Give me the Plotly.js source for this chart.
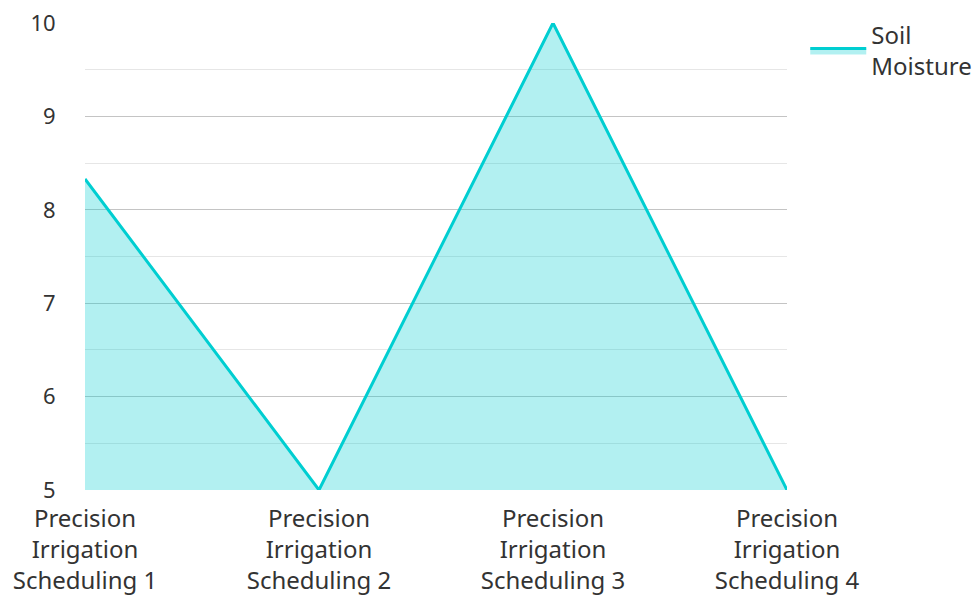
<!DOCTYPE html>
<html><head><meta charset="utf-8">
<script src="https://cdn.plot.ly/plotly-3.0.1.min.js"></script>
<style>html,body{margin:0;padding:0;background:#fff}#chart{width:977px;height:597px}</style>
</head><body><div id="chart"></div>
<script>
const categories = ["Precision<br>Irrigation<br>Scheduling 1","Precision<br>Irrigation<br>Scheduling 2","Precision<br>Irrigation<br>Scheduling 3","Precision<br>Irrigation<br>Scheduling 4"];
const soilMoisture = [8.33, 5, 10, 5];
const seriesName = "Soil<br>Moisture";

Plotly.newPlot('chart', [{
  x: categories, y: soilMoisture, type: 'scatter', mode: 'lines',
  name: seriesName, fill: 'tozeroy',
  line: {color: '#00CED1', width: 3},
  fillcolor: 'rgba(0,206,209,0.3)'
}], {
  width: 977, height: 597,
  margin: {l: 85, r: 190, t: 23, b: 107, autoexpand: false},
  font: {family: 'Noto Sans, sans-serif', size: 24, color: '#333'},
  paper_bgcolor: '#fff', plot_bgcolor: '#fff',
  showlegend: true,
  legend: {x: 1.026, y: 1.022, xanchor: 'left', yanchor: 'top', itemwidth: 56, font: {size: 24, color: '#333'}},
  xaxis: {type: 'category', range: [0, 3], showgrid: false, zeroline: false, showline: false, ticks: 'outside', ticklen: 7, tickcolor: 'rgba(0,0,0,0)', tickangle: 0, automargin: false},
  yaxis: {range: [5, 10], dtick: 1, showgrid: true, gridcolor: '#c4c4c4', gridwidth: 1, zeroline: false, showline: false, ticks: 'outside', ticklen: 24, tickcolor: 'rgba(0,0,0,0)', tickfont: {size: 22},
    minor: {dtick: 0.5, showgrid: true, gridcolor: '#e6e6e6', gridwidth: 1}, automargin: false}
}, {displayModeBar: false});
</script></body></html>
